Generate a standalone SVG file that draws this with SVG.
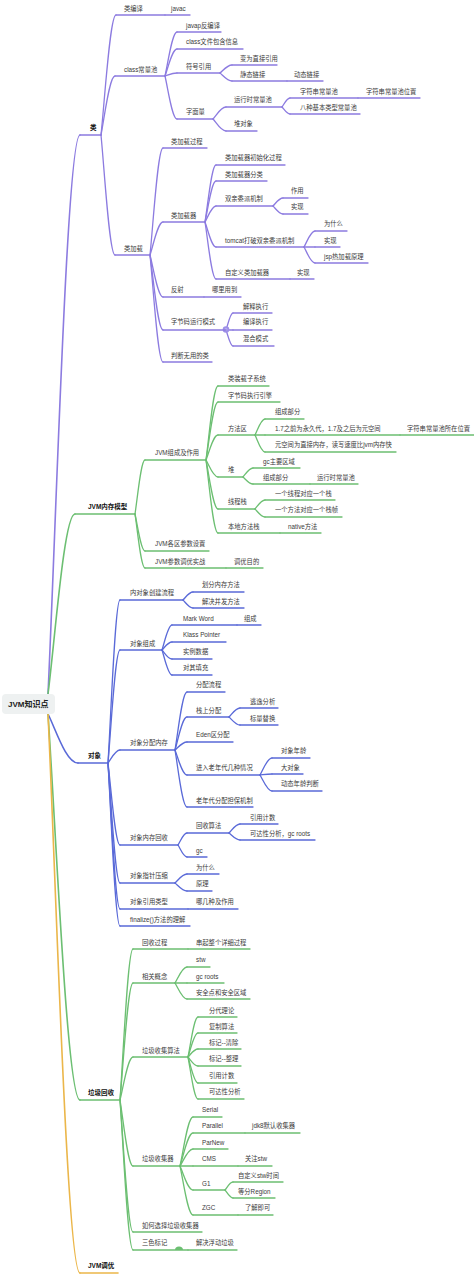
<svg xmlns="http://www.w3.org/2000/svg" width="474" height="1276" viewBox="0 0 474 1276">
<style>
.c{fill:none;stroke-width:1.3;stroke-linecap:round}
.m{fill:none;stroke-width:1.6;stroke-linecap:round}
.p{stroke:#8C7BE0}.g{stroke:#6CBF72}.b{stroke:#5A6AD8}.y{stroke:#EBB649}
text{font-family:"Liberation Sans","Noto Sans CJK SC",sans-serif;font-size:6.3px;fill:#3a3a3a}
text.h{font-size:6.5px;font-weight:bold;fill:#111}
text.r{font-size:8px;font-weight:bold;fill:#222}
</style>
<rect width="474" height="1276" fill="#ffffff"/>
<g id="connectors">
<path class="m p" d="M48 694 C56 526 67 135 80 135"/>
<path class="m g" d="M48 694 C55 640 64 514 75 514"/>
<path class="m b" d="M48 714 C55.5 728.7 66 763 78 763"/>
<path class="m g" d="M48 714 C56 830 67 1100 80 1100"/>
<path class="m y" d="M48 714 C56 882 67 1273 80 1273"/>
<path class="c p" d="M101 135 C104.8 99 110 15 116 15"/>
<path class="c p" d="M101 135 C104.5 117.3 109.4 76 115 76"/>
<path class="c p" d="M101 135 C104.5 171 109.4 255 115 255"/>
<path class="c p" d="M165 76 C168 62.8 172.2 32 177 32"/>
<path class="c p" d="M165 76 C168 67.9 172.2 49 177 49"/>
<path class="c p" d="M165 76 C168 75.1 172.2 73 177 73"/>
<path class="c p" d="M165 76 C168 88.9 172.2 119 177 119"/>
<path class="c p" d="M220 73 C223 70.6 227.2 65 232 65"/>
<path class="c p" d="M220 73 C223 75.4 227.2 81 232 81"/>
<path class="c p" d="M213 119 C216.3 115.4 220.8 107 226 107"/>
<path class="c p" d="M213 119 C216.3 122.6 220.8 131 226 131"/>
<path class="c p" d="M282 107 C284 104.3 286.8 98 290 98"/>
<path class="c p" d="M282 107 C284 109.1 286.8 114 290 114"/>
<path class="c p" d="M150 255 C153.3 222.9 157.8 148 163 148"/>
<path class="c p" d="M150 255 C153.3 245.1 157.8 222 163 222"/>
<path class="c p" d="M150 255 C153.3 267.6 157.8 297 163 297"/>
<path class="c p" d="M150 255 C153.3 277.5 157.8 330 163 330"/>
<path class="c p" d="M150 255 C153.3 287.1 157.8 362 163 362"/>
<path class="c p" d="M205 222 C207.8 204.9 211.6 165 216 165"/>
<path class="c p" d="M205 222 C207.8 209.7 211.6 181 216 181"/>
<path class="c p" d="M205 222 C207.8 217.2 211.6 206 216 206"/>
<path class="c p" d="M205 222 C207.8 229.5 211.6 247 216 247"/>
<path class="c p" d="M205 222 C207.8 239.1 211.6 279 216 279"/>
<path class="c p" d="M273 206 C275.5 203.6 279 198 283 198"/>
<path class="c p" d="M273 206 C275.5 208.4 279 214 283 214"/>
<path class="c p" d="M304 247 C306.8 242.2 310.6 231 315 231"/>
<path class="c p" d="M304 247 L315 247"/>
<path class="c p" d="M304 247 C306.8 251.8 310.6 263 315 263"/>
<path class="c p" d="M226 330 C227.8 324.9 230.2 313 233 313"/>
<path class="c p" d="M226 330 L233 330"/>
<path class="c p" d="M226 330 C227.8 334.8 230.2 346 233 346"/>
<path class="c g" d="M135 514 C137.5 497.8 141 460 145 460"/>
<path class="c g" d="M135 514 C137.5 525.1 141 551 145 551"/>
<path class="c g" d="M135 514 C137.5 530.2 141 568 145 568"/>
<path class="c g" d="M206 460 C209 437.8 213.2 386 218 386"/>
<path class="c g" d="M206 460 C209 442.6 213.2 402 218 402"/>
<path class="c g" d="M206 460 C209 452.5 213.2 435 218 435"/>
<path class="c g" d="M206 460 C209 465.1 213.2 477 218 477"/>
<path class="c g" d="M206 460 C209 474.7 213.2 509 218 509"/>
<path class="c g" d="M206 460 C209 481.9 213.2 533 218 533"/>
<path class="c g" d="M255 435 C257.5 430.2 261 419 265 419"/>
<path class="c g" d="M255 435 L265 435"/>
<path class="c g" d="M255 435 C257.5 440.1 261 452 265 452"/>
<path class="c g" d="M243 477 C245.5 474.3 249 468 253 468"/>
<path class="c g" d="M243 477 C245.5 479.1 249 484 253 484"/>
<path class="c g" d="M255 509 C257.5 506.3 261 500 265 500"/>
<path class="c g" d="M255 509 C257.5 511.4 261 517 265 517"/>
<path class="c b" d="M108 763 C111 714.1 115.2 600 120 600"/>
<path class="c b" d="M108 763 C111 729.1 115.2 650 120 650"/>
<path class="c b" d="M108 763 C111 759.1 115.2 750 120 750"/>
<path class="c b" d="M108 763 C111 787.6 115.2 845 120 845"/>
<path class="c b" d="M108 763 C111 799 115.2 883 120 883"/>
<path class="c b" d="M108 763 C111 806.8 115.2 909 120 909"/>
<path class="c b" d="M108 763 C111 811.9 115.2 926 120 926"/>
<path class="c b" d="M183 600 C185.5 597.6 189 592 193 592"/>
<path class="c b" d="M183 600 C185.5 602.4 189 608 193 608"/>
<path class="c b" d="M162 650 C164.5 642.5 168 625 172 625"/>
<path class="c b" d="M162 650 C164.5 647.6 168 642 172 642"/>
<path class="c b" d="M162 650 C164.5 652.7 168 659 172 659"/>
<path class="c b" d="M162 650 C164.5 657.5 168 675 172 675"/>
<path class="c b" d="M175 750 C178 732.6 182.2 692 187 692"/>
<path class="c b" d="M175 750 C178 740.1 182.2 717 187 717"/>
<path class="c b" d="M175 750 C178 747.6 182.2 742 187 742"/>
<path class="c b" d="M175 750 C178 757.5 182.2 775 187 775"/>
<path class="c b" d="M175 750 C178 767.1 182.2 807 187 807"/>
<path class="c b" d="M229 717 C231.8 714.3 235.6 708 240 708"/>
<path class="c b" d="M229 717 C231.8 719.4 235.6 725 240 725"/>
<path class="c b" d="M260 775 C263 769.9 267.2 758 272 758"/>
<path class="c b" d="M260 775 C263 774.7 267.2 774 272 774"/>
<path class="c b" d="M260 775 C263 779.8 267.2 791 272 791"/>
<path class="c b" d="M178 845 C180.3 841.4 183.4 833 187 833"/>
<path class="c b" d="M178 845 C180.3 848.6 183.4 857 187 857"/>
<path class="c b" d="M229 833 C231.8 830.3 235.6 824 240 824"/>
<path class="c b" d="M229 833 C231.8 835.1 235.6 840 240 840"/>
<path class="c b" d="M175 883 C178 880.3 182.2 874 187 874"/>
<path class="c b" d="M175 883 C178 885.4 182.2 891 187 891"/>
<path class="c g" d="M120 1100 C123.3 1054.7 127.8 949 133 949"/>
<path class="c g" d="M120 1100 C123.3 1064.9 127.8 983 133 983"/>
<path class="c g" d="M120 1100 C123.3 1087.1 127.8 1057 133 1057"/>
<path class="c g" d="M120 1100 C123.3 1119.8 127.8 1166 133 1166"/>
<path class="c g" d="M120 1100 C123.3 1139.6 127.8 1232 133 1232"/>
<path class="c g" d="M120 1100 C123.3 1145 127.8 1250 133 1250"/>
<path class="c g" d="M175 983 C178 978.2 182.2 967 187 967"/>
<path class="c g" d="M175 983 L187 983"/>
<path class="c g" d="M175 983 C178 987.8 182.2 999 187 999"/>
<path class="c g" d="M188 1057 C190.5 1045 194 1017 198 1017"/>
<path class="c g" d="M188 1057 C190.5 1049.8 194 1033 198 1033"/>
<path class="c g" d="M188 1057 C190.5 1054.6 194 1049 198 1049"/>
<path class="c g" d="M188 1057 C190.5 1059.7 194 1066 198 1066"/>
<path class="c g" d="M188 1057 C190.5 1064.8 194 1083 198 1083"/>
<path class="c g" d="M188 1057 C190.5 1069.6 194 1099 198 1099"/>
<path class="c g" d="M180 1166 C183.3 1151.3 187.8 1117 193 1117"/>
<path class="c g" d="M180 1166 C183.3 1156.1 187.8 1133 193 1133"/>
<path class="c g" d="M180 1166 C183.3 1160.9 187.8 1149 193 1149"/>
<path class="c g" d="M180 1166 L193 1166"/>
<path class="c g" d="M180 1166 C183.3 1173.2 187.8 1190 193 1190"/>
<path class="c g" d="M180 1166 C183.3 1180.7 187.8 1215 193 1215"/>
<path class="c g" d="M225 1190 C227 1187.6 229.8 1182 233 1182"/>
<path class="c g" d="M225 1190 C227 1192.4 229.8 1198 233 1198"/>
<circle cx="226" cy="329.5" r="3.3" fill="#9E90E8"/>
<circle cx="226" cy="329.5" r="1.4" fill="#B9AFF0"/>
<path d="M175 1250 A4 3.6 0 0 1 183 1250 Z" fill="#6CBF72"/>
</g>
<g id="root"><rect x="2" y="694" width="53" height="20" rx="4" fill="#EEF1F1"/><text class="r" x="8" y="707">JVM知识点</text></g>
<g id="n-lei"><path class="m p" d="M80 135 H101"/><text class="h" x="90" y="130.4">类</text></g>
<g id="n-leibianyi"><path class="c p" d="M116 15 H165"/><text x="124" y="11.4">类编译</text></g>
<g id="n-javac"><path class="c p" d="M165 15 H190"/><text x="171" y="11.4">javac</text></g>
<g id="n-classpool"><path class="c p" d="M115 76 H165"/><text x="124" y="72.4">class常量池</text></g>
<g id="n-javap"><path class="c p" d="M177 32 H221"/><text x="186" y="28.4">javap反编译</text></g>
<g id="n-classinfo"><path class="c p" d="M177 49 H243"/><text x="186" y="44.4">class文件包含信息</text></g>
<g id="n-fuhao"><path class="c p" d="M177 73 H220"/><text x="186" y="69.4">符号引用</text></g>
<g id="n-zhijie"><path class="c p" d="M232 65 H277"/><text x="240" y="61.4">变为直接引用</text></g>
<g id="n-jingtai"><path class="c p" d="M232 81 H287"/><text x="240" y="77.4">静态链接</text></g>
<g id="n-dongtai"><path class="c p" d="M287 81 H323"/><text x="294" y="77.4">动态链接</text></g>
<g id="n-zimian"><path class="c p" d="M177 119 H213"/><text x="186" y="114.4">字面量</text></g>
<g id="n-runpool"><path class="c p" d="M226 107 H282"/><text x="234" y="102.4">运行时常量池</text></g>
<g id="n-strpool"><path class="c p" d="M290 98 H358"/><text x="300" y="94.4">字符串常量池</text></g>
<g id="n-strpoolpos"><path class="c p" d="M358 98 H420"/><text x="366" y="94.4">字符串常量池位置</text></g>
<g id="n-basepool"><path class="c p" d="M290 114 H360"/><text x="300" y="110.4">八种基本类型常量池</text></g>
<g id="n-duiobj"><path class="c p" d="M226 131 H257"/><text x="234" y="126.4">堆对象</text></g>
<g id="n-leijiazai"><path class="c p" d="M115 255 H150"/><text x="124" y="251.4">类加载</text></g>
<g id="n-jzgc"><path class="c p" d="M163 148 H207"/><text x="171" y="144.4">类加载过程</text></g>
<g id="n-jzq"><path class="c p" d="M163 222 H205"/><text x="171" y="218.4">类加载器</text></g>
<g id="n-jzqinit"><path class="c p" d="M216 165 H285"/><text x="225" y="160.4">类加载器初始化过程</text></g>
<g id="n-jzqfl"><path class="c p" d="M216 181 H267"/><text x="225" y="177.4">类加载器分类</text></g>
<g id="n-sqwp"><path class="c p" d="M216 206 H273"/><text x="225" y="201.4">双亲委派机制</text></g>
<g id="n-zuoyong"><path class="c p" d="M283 198 H308"/><text x="291" y="193.4">作用</text></g>
<g id="n-shixian1"><path class="c p" d="M283 214 H308"/><text x="291" y="209.4">实现</text></g>
<g id="n-tomcat"><path class="c p" d="M216 247 H304"/><text x="225" y="243.4">tomcat打破双亲委派机制</text></g>
<g id="n-weishenme1"><path class="c p" d="M315 231 H347"/><text x="324" y="226.4">为什么</text></g>
<g id="n-shixian2"><path class="c p" d="M315 247 H340"/><text x="324" y="243.4">实现</text></g>
<g id="n-jsp"><path class="c p" d="M315 263 H368"/><text x="324" y="259.4">jsp热加载原理</text></g>
<g id="n-zdy"><path class="c p" d="M216 279 H290"/><text x="225" y="275.4">自定义类加载器</text></g>
<g id="n-shixian3"><path class="c p" d="M290 279 H314"/><text x="297" y="275.4">实现</text></g>
<g id="n-fanshe"><path class="c p" d="M163 297 H204"/><text x="171" y="292.4">反射</text></g>
<g id="n-naliyong"><path class="c p" d="M204 297 H241"/><text x="212" y="292.4">哪里用到</text></g>
<g id="n-zjmms"><path class="c p" d="M163 330 H226"/><text x="171" y="324.4">字节码运行模式</text></g>
<g id="n-jieshi"><path class="c p" d="M233 313 H272"/><text x="243" y="309.4">解释执行</text></g>
<g id="n-bianyi"><path class="c p" d="M233 330 H272"/><text x="243" y="324.4">编译执行</text></g>
<g id="n-hunhe"><path class="c p" d="M233 346 H274"/><text x="243" y="341.4">混合模式</text></g>
<g id="n-wuyong"><path class="c p" d="M163 362 H212"/><text x="171" y="358.4">判断无用的类</text></g>
<g id="n-jvmmem"><path class="m g" d="M75 514 H135"/><text class="h" x="88" y="509.4">JVM内存模型</text></g>
<g id="n-jvmzc"><path class="c g" d="M145 460 H206"/><text x="155" y="455.4">JVM组成及作用</text></g>
<g id="n-lzzxt"><path class="c g" d="M218 386 H269"/><text x="228" y="381.4">类装载子系统</text></g>
<g id="n-zjmyq"><path class="c g" d="M218 402 H280"/><text x="228" y="398.4">字节码执行引擎</text></g>
<g id="n-ffq"><path class="c g" d="M218 435 H255"/><text x="228" y="431.4">方法区</text></g>
<g id="n-zcbf1"><path class="c g" d="M265 419 H304"/><text x="275" y="414.4">组成部分</text></g>
<g id="n-yjd"><path class="c g" d="M265 435 H400"/><text x="275" y="431.4">1.7之前为永久代，1.7及之后为元空间</text></g>
<g id="n-strpos"><path class="c g" d="M400 435 H474"/><text x="407" y="431.4">字符串常量池所在位置</text></g>
<g id="n-ykj"><path class="c g" d="M265 452 H396"/><text x="275" y="447.4">元空间为直接内存，读写速度比jvm内存快</text></g>
<g id="n-dui"><path class="c g" d="M218 477 H243"/><text x="228" y="472.4">堆</text></g>
<g id="n-gczy"><path class="c g" d="M253 468 H300"/><text x="263" y="464.4">gc主要区域</text></g>
<g id="n-zcbf2"><path class="c g" d="M253 484 H310"/><text x="263" y="480.4">组成部分</text></g>
<g id="n-yxsclc"><path class="c g" d="M310 484 H358"/><text x="317" y="480.4">运行时常量池</text></g>
<g id="n-xcz"><path class="c g" d="M218 509 H255"/><text x="228" y="504.4">线程栈</text></g>
<g id="n-yxc"><path class="c g" d="M265 500 H335"/><text x="275" y="496.4">一个线程对应一个栈</text></g>
<g id="n-yff"><path class="c g" d="M265 517 H342"/><text x="275" y="512.4">一个方法对应一个栈帧</text></g>
<g id="n-bdff"><path class="c g" d="M218 533 H280"/><text x="228" y="529.4">本地方法栈</text></g>
<g id="n-native"><path class="c g" d="M280 533 H321"/><text x="288" y="529.4">native方法</text></g>
<g id="n-jvmcs"><path class="c g" d="M145 551 H209"/><text x="155" y="546.4">JVM各区参数设置</text></g>
<g id="n-jvmty"><path class="c g" d="M145 568 H226"/><text x="155" y="564.4">JVM参数调优实战</text></g>
<g id="n-tymd"><path class="c g" d="M226 568 H263"/><text x="234" y="564.4">调优目的</text></g>
<g id="n-duixiang"><path class="m b" d="M78 763 H108"/><text class="h" x="88" y="758.4">对象</text></g>
<g id="n-ndxcj"><path class="c b" d="M120 600 H183"/><text x="130" y="595.4">内对象创建流程</text></g>
<g id="n-hfnc"><path class="c b" d="M193 592 H244"/><text x="202" y="587.4">划分内存方法</text></g>
<g id="n-jjbf"><path class="c b" d="M193 608 H244"/><text x="202" y="604.4">解决并发方法</text></g>
<g id="n-dxzc"><path class="c b" d="M120 650 H162"/><text x="130" y="646.4">对象组成</text></g>
<g id="n-markword"><path class="c b" d="M172 625 H237"/><text x="183" y="621.4">Mark Word</text></g>
<g id="n-zucheng"><path class="c b" d="M237 625 H261"/><text x="244" y="621.4">组成</text></g>
<g id="n-klass"><path class="c b" d="M172 642 H226"/><text x="183" y="637.4">Klass Pointer</text></g>
<g id="n-slsj"><path class="c b" d="M172 659 H212"/><text x="183" y="654.4">实例数据</text></g>
<g id="n-dqtc"><path class="c b" d="M172 675 H212"/><text x="183" y="670.4">对其填充</text></g>
<g id="n-dxfp"><path class="c b" d="M120 750 H175"/><text x="130" y="745.4">对象分配内存</text></g>
<g id="n-fplc"><path class="c b" d="M187 692 H225"/><text x="196" y="687.4">分配流程</text></g>
<g id="n-zsfp"><path class="c b" d="M187 717 H229"/><text x="196" y="713.4">栈上分配</text></g>
<g id="n-tyfx"><path class="c b" d="M240 708 H278"/><text x="250" y="704.4">逃逸分析</text></g>
<g id="n-bltt"><path class="c b" d="M240 725 H278"/><text x="250" y="721.4">标量替换</text></g>
<g id="n-eden"><path class="c b" d="M187 742 H233"/><text x="196" y="737.4">Eden区分配</text></g>
<g id="n-jrlnd"><path class="c b" d="M187 775 H260"/><text x="196" y="770.4">进入老年代几种情况</text></g>
<g id="n-dxnl"><path class="c b" d="M272 758 H310"/><text x="281" y="753.4">对象年龄</text></g>
<g id="n-ddx"><path class="c b" d="M272 774 H303"/><text x="281" y="770.4">大对象</text></g>
<g id="n-dtnl"><path class="c b" d="M272 791 H322"/><text x="281" y="786.4">动态年龄判断</text></g>
<g id="n-lndbz"><path class="c b" d="M187 807 H253"/><text x="196" y="803.4">老年代分配担保机制</text></g>
<g id="n-dxhs"><path class="c b" d="M120 845 H178"/><text x="130" y="840.4">对象内存回收</text></g>
<g id="n-hssf"><path class="c b" d="M187 833 H229"/><text x="196" y="828.4">回收算法</text></g>
<g id="n-yyjs1"><path class="c b" d="M240 824 H278"/><text x="250" y="820.4">引用计数</text></g>
<g id="n-kdx1"><path class="c b" d="M240 840 H315"/><text x="250" y="836.4">可达性分析，gc roots</text></g>
<g id="n-gc"><path class="c b" d="M187 857 H207"/><text x="196" y="853.4">gc</text></g>
<g id="n-zzys"><path class="c b" d="M120 883 H175"/><text x="130" y="878.4">对象指针压缩</text></g>
<g id="n-weishenme2"><path class="c b" d="M187 874 H219"/><text x="196" y="870.4">为什么</text></g>
<g id="n-yuanli"><path class="c b" d="M187 891 H212"/><text x="196" y="886.4">原理</text></g>
<g id="n-yylx"><path class="c b" d="M120 909 H188"/><text x="130" y="904.4">对象引用类型</text></g>
<g id="n-njz"><path class="c b" d="M188 909 H238"/><text x="196" y="904.4">哪几种及作用</text></g>
<g id="n-finalize"><path class="c b" d="M120 926 H190"/><text x="130" y="922.4">finalize()方法的理解</text></g>
<g id="n-ljhs"><path class="m g" d="M80 1100 H120"/><text class="h" x="88" y="1095.4">垃圾回收</text></g>
<g id="n-hsgc"><path class="c g" d="M133 949 H188"/><text x="142" y="945.4">回收过程</text></g>
<g id="n-cqzg"><path class="c g" d="M188 949 H250"/><text x="196" y="945.4">串起整个详细过程</text></g>
<g id="n-xggn"><path class="c g" d="M133 983 H175"/><text x="142" y="979.4">相关概念</text></g>
<g id="n-stw"><path class="c g" d="M187 967 H210"/><text x="196" y="962.4">stw</text></g>
<g id="n-gcroots"><path class="c g" d="M187 983 H224"/><text x="196" y="979.4">gc roots</text></g>
<g id="n-aqd"><path class="c g" d="M187 999 H250"/><text x="196" y="995.4">安全点和安全区域</text></g>
<g id="n-ljsf"><path class="c g" d="M133 1057 H188"/><text x="142" y="1053.4">垃圾收集算法</text></g>
<g id="n-fdll"><path class="c g" d="M198 1017 H237"/><text x="209" y="1013.4">分代理论</text></g>
<g id="n-fzsf"><path class="c g" d="M198 1033 H237"/><text x="209" y="1029.4">复制算法</text></g>
<g id="n-bjqc"><path class="c g" d="M198 1049 H241"/><text x="209" y="1045.4">标记--清除</text></g>
<g id="n-bjzl"><path class="c g" d="M198 1066 H241"/><text x="209" y="1061.4">标记--整理</text></g>
<g id="n-yyjs2"><path class="c g" d="M198 1083 H237"/><text x="209" y="1078.4">引用计数</text></g>
<g id="n-kdx2"><path class="c g" d="M198 1099 H244"/><text x="209" y="1094.4">可达性分析</text></g>
<g id="n-ljsjq"><path class="c g" d="M133 1166 H180"/><text x="142" y="1161.4">垃圾收集器</text></g>
<g id="n-serial"><path class="c g" d="M193 1117 H222"/><text x="202" y="1112.4">Serial</text></g>
<g id="n-parallel"><path class="c g" d="M193 1133 H245"/><text x="202" y="1128.4">Parallel</text></g>
<g id="n-jdk8"><path class="c g" d="M245 1133 H300"/><text x="252" y="1128.4">jdk8默认收集器</text></g>
<g id="n-parnew"><path class="c g" d="M193 1149 H228"/><text x="202" y="1145.4">ParNew</text></g>
<g id="n-cms"><path class="c g" d="M193 1166 H238"/><text x="202" y="1161.4">CMS</text></g>
<g id="n-gzstw"><path class="c g" d="M238 1166 H272"/><text x="245" y="1161.4">关注stw</text></g>
<g id="n-g1"><path class="c g" d="M193 1190 H225"/><text x="202" y="1186.4">G1</text></g>
<g id="n-zdystw"><path class="c g" d="M233 1182 H283"/><text x="238" y="1178.4">自定义stw时间</text></g>
<g id="n-region"><path class="c g" d="M233 1198 H275"/><text x="238" y="1194.4">等分Region</text></g>
<g id="n-zgc"><path class="c g" d="M193 1215 H238"/><text x="202" y="1210.4">ZGC</text></g>
<g id="n-ljjk"><path class="c g" d="M238 1215 H273"/><text x="245" y="1210.4">了解即可</text></g>
<g id="n-rhxz"><path class="c g" d="M133 1232 H202"/><text x="142" y="1228.4">如何选择垃圾收集器</text></g>
<g id="n-ssbj"><path class="c g" d="M133 1250 H188"/><text x="142" y="1245.4">三色标记</text></g>
<g id="n-jjfd"><path class="c g" d="M188 1250 H237"/><text x="196" y="1245.4">解决浮动垃圾</text></g>
<g id="n-jvmty2"><path class="m y" d="M80 1273 H118"/><text class="h" x="88" y="1268.4">JVM调优</text></g>
</svg>
